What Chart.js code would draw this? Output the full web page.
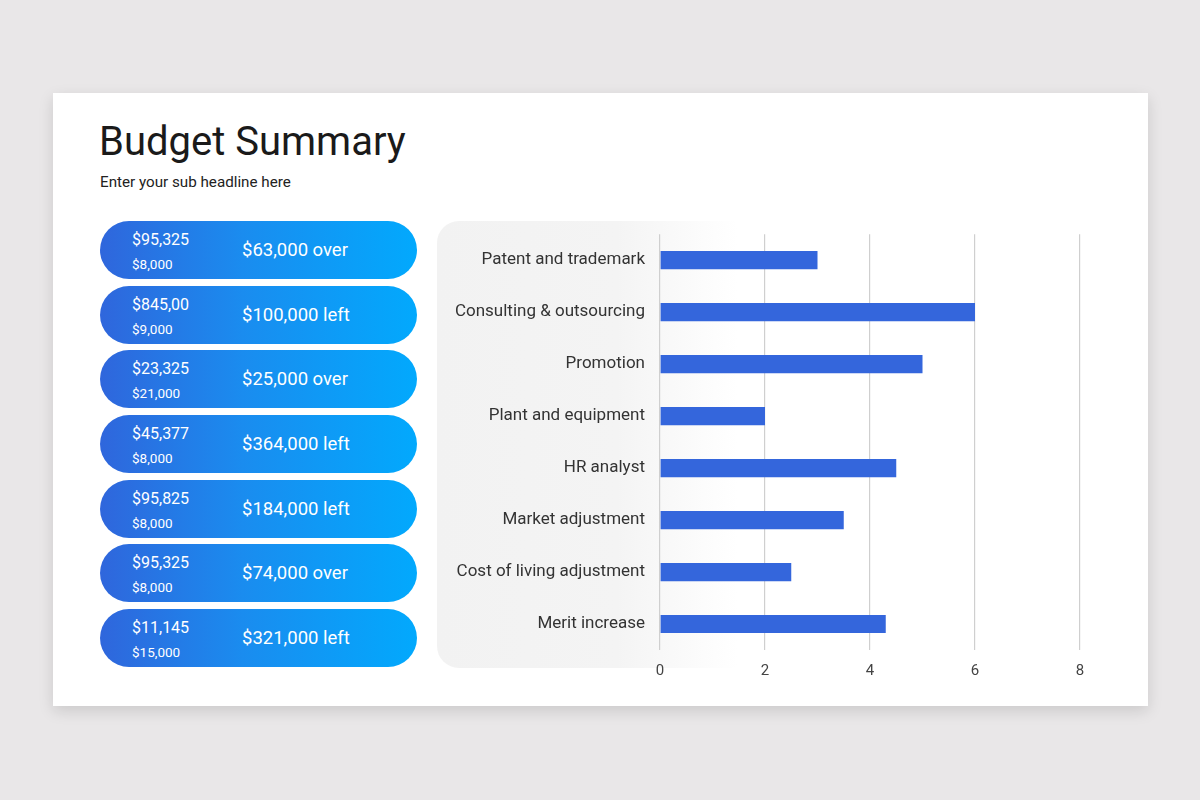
<!DOCTYPE html>
<html>
<head>
<meta charset="utf-8">
<script src="https://cdn.jsdelivr.net/npm/chart.js@4"></script>
<style>
  html,body{margin:0;padding:0;}
  body{width:1200px;height:800px;background:#e9e7e8;position:relative;overflow:hidden;font-family:Roboto,"Noto Sans",sans-serif;}
  #card{position:absolute;left:53px;top:93px;width:1095px;height:613px;background:#fff;box-shadow:0 5px 14px rgba(0,0,0,0.13);}
  #title{position:absolute;left:99px;top:117px;font-size:40px;color:#1a1a1a;line-height:50px;white-space:nowrap;}
  #sub{position:absolute;left:100px;top:172px;font-size:15.2px;color:#222;line-height:20px;white-space:nowrap;}
  .pill{position:absolute;left:100px;width:317px;height:58px;border-radius:29px;background:linear-gradient(to right,#2f66dc 0%,#1a8cef 45%,#02a9fd 100%);color:#fff;}
  .pill .a{position:absolute;left:32px;top:9px;font-size:16px;line-height:20px;}
  .pill .b{position:absolute;left:32px;top:34px;font-size:13.5px;line-height:18px;}
  .pill .c{position:absolute;left:142px;top:18px;font-size:18.5px;line-height:22px;}
  #panel{position:absolute;left:437px;top:221px;width:300px;height:447px;border-radius:22px 0 0 22px;background:linear-gradient(to right,#f2f2f2 0%,#f4f4f4 60%,rgba(255,255,255,1) 100%);}
  #chartWrap{position:absolute;left:437px;top:209px;width:663px;height:495px;}
</style>
</head>
<body>
<div id="card"></div>
<div id="title">Budget Summary</div>
<div id="sub">Enter your sub headline here</div>
<div id="pills"></div>
<div id="panel"></div>
<div id="chartWrap"><canvas id="c"></canvas></div>
<script>
const categories = ["Patent and trademark","Consulting & outsourcing","Promotion","Plant and equipment","HR analyst","Market adjustment","Cost of living adjustment","Merit increase"];
const values = [3, 6, 5, 2, 4.5, 3.5, 2.5, 4.3];
const xTicks = [0, 2, 4, 6, 8];

const pillAmounts = ["$95,325","$845,00","$23,325","$45,377","$95,825","$95,325","$11,145"];
const pillSubAmounts = ["$8,000","$9,000","$21,000","$8,000","$8,000","$8,000","$15,000"];
const pillStatus = ["$63,000 over","$100,000 left","$25,000 over","$364,000 left","$184,000 left","$74,000 over","$321,000 left"];

const pillTops = [221, 286, 350, 415, 480, 544, 609];
const pc = document.getElementById('pills');
pillAmounts.forEach((a, i) => {
  const d = document.createElement('div');
  d.className = 'pill';
  d.style.top = pillTops[i] + 'px';
  d.innerHTML = '<div class="a">' + a + '</div><div class="b">' + pillSubAmounts[i] + '</div><div class="c">' + pillStatus[i] + '</div>';
  pc.appendChild(d);
});

new Chart(document.getElementById('c'), {
  type: 'bar',
  data: {
    labels: categories,
    datasets: [{
      data: values,
      backgroundColor: '#3466dc',
      barPercentage: 0.35,
      categoryPercentage: 1
    }]
  },
  options: {
    indexAxis: 'y',
    responsive: true,
    maintainAspectRatio: false,
    animation: false,
    layout: { padding: { top: 12, right: 20, bottom: 12, left: 0 } },
    plugins: { legend: { display: false }, tooltip: { enabled: false } },
    scales: {
      x: {
        min: 0, max: 8,
        afterBuildTicks: (s) => { s.ticks = xTicks.map(v => ({ value: v })); },
        grid: { color: '#cfcfcf', lineWidth: 1.2, drawTicks: false },
        border: { display: false },
        ticks: { padding: 12, color: '#444', font: { family: 'Roboto', size: 15 } }
      },
      y: {
        grid: { display: false, drawTicks: false },
        border: { display: false },
        afterFit: (s) => { s.width = 223; },
        ticks: { padding: 15, color: '#333', font: { family: 'Roboto', size: 17 } }
      }
    }
  }
});
</script>
</body>
</html>
